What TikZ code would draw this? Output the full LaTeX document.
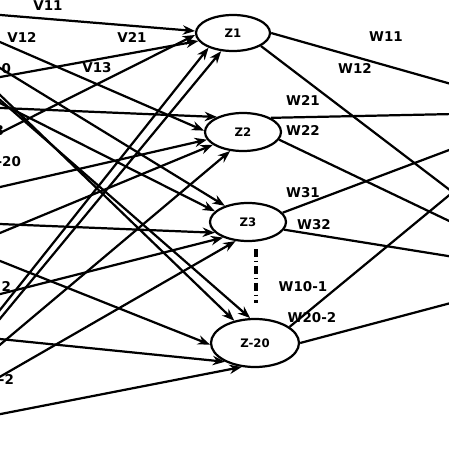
\documentclass[tikz,border=0pt]{standalone}
\usepackage{fontspec}
\setmainfont{DejaVu Sans}
\usetikzlibrary{arrows.meta,shapes.geometric}

\begin{document}
\begin{tikzpicture}[x=0.03cm,y=-0.03cm,->,>={Stealth[length=10.5pt,width=8pt]},line width=1.9pt,
  font=\bfseries\fontsize{11.5}{12}\selectfont]
 \tikzstyle{hidden}=[ellipse,draw,inner sep=0pt,font=\bfseries\fontsize{10}{10}\selectfont]
 \tikzstyle{weight}=[inner sep=0pt]
 \useasboundingbox (0,0) rectangle (449,449);

 % hidden layer
 \node[hidden,minimum width=2.22cm,minimum height=1.08cm] (z1)  at (233,33)  {Z1};
 \node[hidden,minimum width=2.28cm,minimum height=1.14cm] (z2)  at (243,132) {Z2};
 \node[hidden,minimum width=2.28cm,minimum height=1.14cm] (z3)  at (248,222) {Z3};
 \node[hidden,minimum width=2.64cm,minimum height=1.44cm] (z20) at (255,343) {Z-20};

 % inputs and outputs lie outside the frame
 \coordinate (a1)  at (-30,12.5);
 \coordinate (a2)  at (-30,82.5);
 \coordinate (a3)  at (-30,148);
 \coordinate (a4)  at (-30,347.6);
 \coordinate (a5)  at (-30,355);
 \coordinate (b1)  at (-30,106.7);
 \coordinate (b2)  at (-30,29);
 \coordinate (b3)  at (-30,193.9);
 \coordinate (b4)  at (-30,245.4);
 \coordinate (b5)  at (-30,370);
 \coordinate (c1)  at (-30,49.6);
 \coordinate (c2)  at (-30,88);
 \coordinate (c3)  at (-30,222.8);
 \coordinate (c4)  at (-30,301.7);
 \coordinate (c5)  at (-30,394);
 \coordinate (d1)  at (-30,66);
 \coordinate (d2)  at (-30,73.7);
 \coordinate (d3)  at (-30,249);
 \coordinate (d4)  at (-30,336);
 \coordinate (d5)  at (-30,420);
 \coordinate (y1)  at (550,112);
 \coordinate (y2)  at (560,274);

 \path (a1) edge (z1.177)
       (a2) edge (z1.193)
       (a3) edge (z1.183)
       (a4) edge (z1.211)
       (a5) edge (z1.237)
       (b1) edge (z2.150)
       (b2) edge (z2.178)
       (b3) edge (z2.192)
       (b4) edge (z2.203)
       (b5) edge (z2.236)
       (c1) edge (z3.145)
       (c2) edge (z3.162)
       (c3) edge (z3.198)
       (c4) edge (z3.212)
       (c5) edge (z3.237)
       (d1) edge (z20.133)
       (d2) edge (z20.101)
       (d3) edge (z20.182)
       (d4) edge (z20.212)
       (d5) edge (z20.241);

 \path[-] (z1.east)  edge (y1)
          (z1.-25)   edge (y2)
          (z2.27)    edge (y1)
          (z2.-12)   edge (y2)
          (z3.15)    edge (y1)
          (z3.-12)   edge (y2)
          (z20.25)   edge (y1)
          (z20.east) edge (y2);

 \draw[-,line width=2.8pt,dash pattern=on 7pt off 3pt on 1.5pt off 3pt]
   (256,249) -- (256,303);

 % weights
 \node[weight] (v11)  at (48,6)   {V11};
 \node[weight] (v12)  at (22,37)  {V12};
 \node[weight] (v21)  at (132,37) {V21};
 \node[weight] (v13)  at (97,68)  {V13};
 \node[weight,anchor=east] (l1) at (12,69)  {0};
 \node[weight,anchor=east] (l2) at (5,131)  {3};
 \node[weight,anchor=east] (l3) at (22,162) {-20};
 \node[weight,anchor=east] (l4) at (12,286) {2};
 \node[weight,anchor=east] (l5) at (15,379) {-2};
 \node[weight] (w11)  at (386,37)  {W11};
 \node[weight] (w12)  at (355,68)  {W12};
 \node[weight] (w21)  at (303,100) {W21};
 \node[weight] (w22)  at (303,130) {W22};
 \node[weight] (w31)  at (303,193) {W31};
 \node[weight] (w32)  at (314,225) {W32};
 \node[weight] (w101) at (303,287) {W10-1};
 \node[weight] (w202) at (312,318) {W20-2};
\end{tikzpicture}
\end{document}
